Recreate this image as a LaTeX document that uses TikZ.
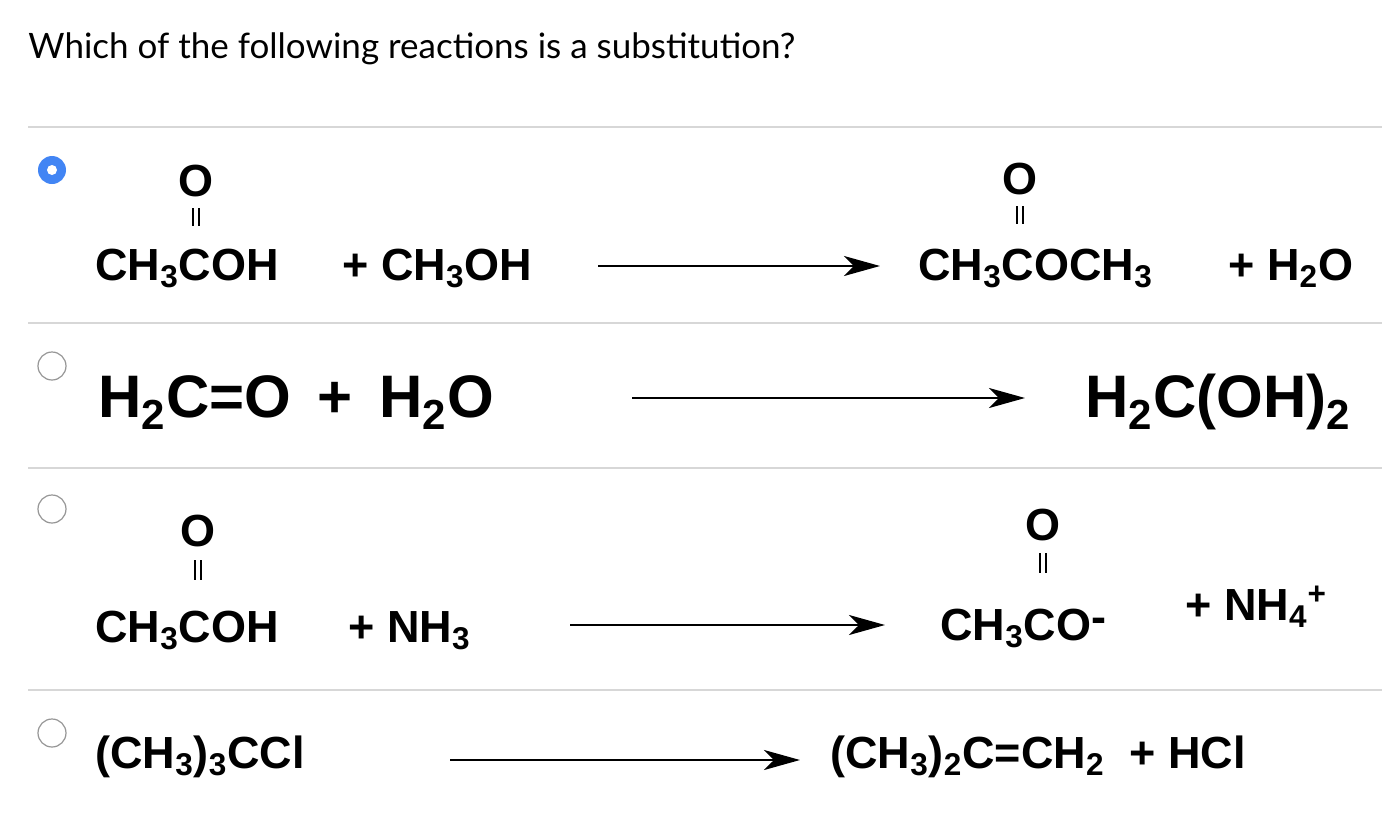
\documentclass[tikz,border=0pt]{standalone}
\usepackage{fontspec}
\setmainfont{Lato}
\newfontfamily\chem{Liberation Sans}
\usetikzlibrary{arrows.meta}
\definecolor{sep}{RGB}{215,215,215}
\definecolor{radio}{RGB}{150,150,150}
\definecolor{sel}{RGB}{66,133,244}
\newcommand\dn[1]{\textsubscript{#1}}
\newcommand\up[1]{\textsuperscript{#1}}
\tikzset{
  c/.style={font=\chem\bfseries\fontsize{22.5}{25}\selectfont, inner sep=0pt, anchor=base west},
  co/.style={font=\chem\bfseries\fontsize{22.5}{25}\selectfont, inner sep=0pt, anchor=base},
  cb/.style={font=\chem\bfseries\fontsize{30}{33}\selectfont, inner sep=0pt, anchor=base west},
  arr/.style={line width=1.3pt, -{Stealth[length=18pt,width=10pt,inset=5pt]}},
  sepl/.style={draw=sep, line width=0.6pt},
  rad/.style={draw=radio, line width=0.6pt, fill=white}
}
\begin{document}
\begin{tikzpicture}[x=0.5pt,y=-0.5pt]
\useasboundingbox (0,0) rectangle (1382,820);
\node[font=\fontsize{17.5}{20}\selectfont, anchor=base west, inner sep=0pt] (q) at (28,58) {Which of the following reactions is a substitution?};
\foreach \y/\n in {127/s1,323/s2,468/s3,690/s4}{\draw[sepl] (28,\y) coordinate (\n a) -- (1382,\y) coordinate (\n b);}
\node[circle, fill=sel, minimum size=14pt, inner sep=0pt] (r1) at (52,170) {};
\node[circle, fill=white, minimum size=5pt, inner sep=0pt] (r1d) at (52,170) {};
\node[circle, rad, minimum size=14pt, inner sep=0pt] (r2) at (52,366) {};
\node[circle, rad, minimum size=14pt, inner sep=0pt] (r3) at (52,509) {};
\node[circle, rad, minimum size=14pt, inner sep=0pt] (r4) at (52,733) {};
% row 1
\node[c] (a1) at (95,280) {CH\dn{3}COH};
\node[co] (o1) at (196,196) {O};
\draw[line width=0.9pt] (193,208)--(193,226) (199,208)--(199,226);
\node[c] (b1) at (342,280) {+ CH\dn{3}OH};
\coordinate (x1) at (598,266); \coordinate (y1) at (880,266);
\draw[arr] (x1)--(y1);
\node[c] (p1) at (918,280) {CH\dn{3}COCH\dn{3}};
\node[co] (o1b) at (1020,194) {O};
\draw[line width=0.9pt] (1017,206)--(1017,224) (1023,206)--(1023,224);
\node[c] (q1) at (1228,280) {+ H\dn{2}O};
% row 2
\node[cb] (a2) at (98,417) {H\dn{2}C=O \,+\, H\dn{2}O};
\coordinate (x2) at (632,398); \coordinate (y2) at (1025,398);
\draw[arr] (x2)--(y2);
\node[cb] (p2) at (1085,417) {H\dn{2}C(OH)\dn{2}};
% row 3
\node[c] (a3) at (95,642) {CH\dn{3}COH};
\node[co] (o3) at (198,546) {O};
\draw[line width=0.9pt] (195,560)--(195,580) (201,560)--(201,580);
\node[c] (b3) at (348,642) {+ NH\dn{3}};
\coordinate (x3) at (570,625); \coordinate (y3) at (885,625);
\draw[arr] (x3)--(y3);
\node[c] (p3) at (940,640) {CH\dn{3}CO\raisebox{4pt}{-}};
\node[co] (o3b) at (1043,540) {O};
\draw[line width=0.9pt] (1040,553)--(1040,573) (1046,553)--(1046,573);
\node[c] (q3) at (1185,620) {+ NH\dn{4}\up{+}};
% row 4
\node[c] (a4) at (95,768) {(CH\dn{3})\dn{3}CCl};
\coordinate (x4) at (450,760); \coordinate (y4) at (800,760);
\draw[arr] (x4)--(y4);
\node[c] (p4) at (830,768) {(CH\dn{3})\dn{2}C=CH\dn{2} \ + HCl};
\end{tikzpicture}
\end{document}
